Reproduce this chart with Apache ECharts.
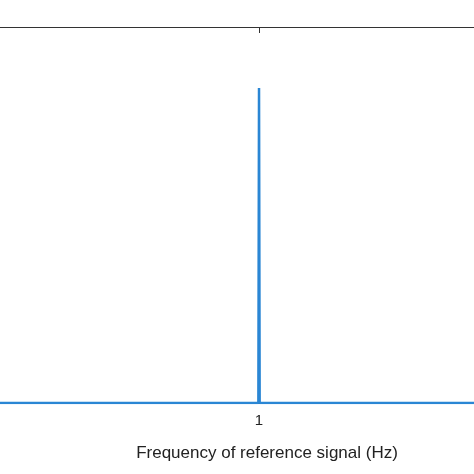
<!DOCTYPE html>
<html><head><meta charset="utf-8">
<script src="https://cdn.jsdelivr.net/npm/echarts@6/dist/echarts.min.js"></script>
<style>html,body{margin:0;padding:0;background:#fff}#chart{width:474px;height:474px}</style>
</head><body><div id="chart"></div>
<script>
// spectrum: flat zero except a single line at the reference frequency
const freqs = [0.2, 0.998, 1, 1.002, 1.664];
const amps = [0, 0, 0.838, 0, 0];
const xTicks = [1];

const chart = echarts.init(document.getElementById('chart'));
chart.setOption({
  animation: false,
  grid: { left: 0, right: 0, top: 27, bottom: 71, show: false },
  xAxis: [
    {
      type: 'value', min: 0.2, max: 1.664,
      name: 'Frequency of reference signal (Hz)', nameLocation: 'middle', nameGap: 42,
      nameTextStyle: { fontSize: 17, color: '#222', fontFamily: 'Liberation Sans', padding: [0, 0, 0, 60] },
      axisLine: { lineStyle: { color: '#333' } },
      axisTick: { inside: true, length: 6, customValues: xTicks, lineStyle: { color: '#333' } },
      axisLabel: { fontSize: 15, color: '#222', fontFamily: 'Liberation Sans', margin: 10, customValues: xTicks },
      splitLine: { show: false }
    },
    {
      type: 'value', min: 0.2, max: 1.664, position: 'top',
      axisLine: { show: true, lineStyle: { color: '#333' } },
      axisTick: { inside: true, length: 6, customValues: xTicks, lineStyle: { color: '#333' } },
      axisLabel: { show: false }, splitLine: { show: false }
    }
  ],
  yAxis: { type: 'value', min: 0, max: 1, show: false },
  series: [{
    type: 'line', symbol: 'none',
    data: freqs.map((f, i) => [f, amps[i]]),
    lineStyle: { color: '#2a86d4', width: 2.5 }
  }]
});
</script></body></html>
